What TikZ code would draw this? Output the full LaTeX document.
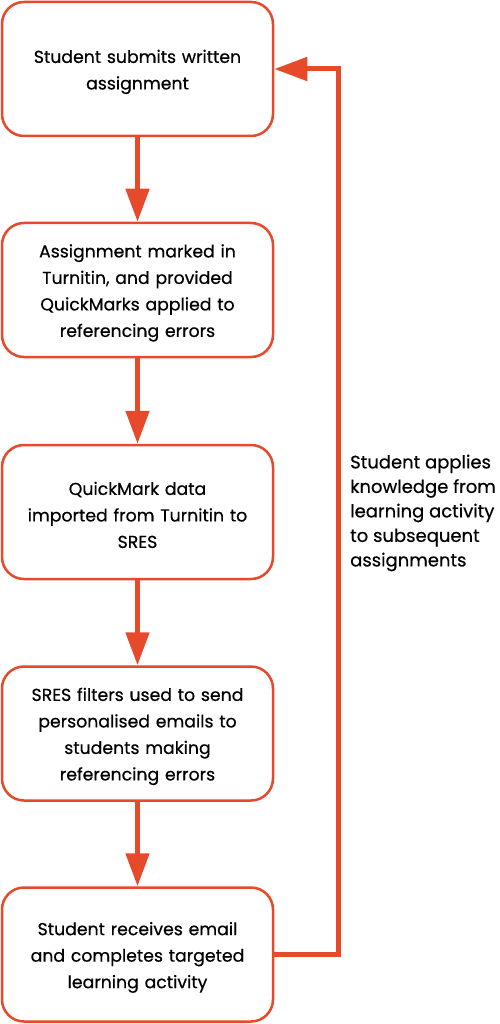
\documentclass[tikz,border=0pt]{standalone}
\usepackage{fontspec}
\setmainfont{Poppins}[FakeBold=0.5]
\usetikzlibrary{arrows.meta}
\definecolor{acc}{HTML}{E64A2B}
\begin{document}
\begin{tikzpicture}[x=1pt,y=-1pt,
  stepbox/.style={draw=acc, line width=2.5pt, rounded corners=22pt,
    minimum width=271pt, minimum height=134pt, align=center,
    text width=262pt, inner sep=0pt, font=\fontsize{17.3}{26.5}\selectfont,
    text height=19pt},
  flow/.style={draw=acc, line width=5pt, -{Triangle[length=33pt,width=23pt]}},
  note/.style={anchor=north west, align=left, inner sep=0pt,
    font=\fontsize{18}{24.5}\selectfont}]
\useasboundingbox (0,0) rectangle (499,1024);
\node[stepbox] (s1) at (137.5,69) {Student submits written\\assignment};
\node[stepbox] (s2) at (137.5,290) {Assignment marked in\\Turnitin, and provided\\QuickMarks applied to\\referencing errors};
\node[stepbox] (s3) at (137.5,512) {QuickMark data\\imported from Turnitin to\\SRES};
\node[stepbox] (s4) at (137.5,733.5) {SRES filters used to send\\personalised emails to\\students making\\referencing errors};
\node[stepbox] (s5) at (137.5,954.5) {Student receives email\\and completes targeted\\learning activity};
\node[note] (lbl) at (350,454.5) {Student applies\\knowledge from\\learning activity\\to subsequent\\assignments};
\coordinate (c2) at (338,69);
\draw[flow] (s1) -- (s2);
\draw[flow] (s2) -- (s3);
\draw[flow] (s3) -- (s4);
\draw[flow] (s4) -- (s5);
\draw[flow] (s5.east) -| (c2) -- (s1.east);
\end{tikzpicture}
\end{document}
